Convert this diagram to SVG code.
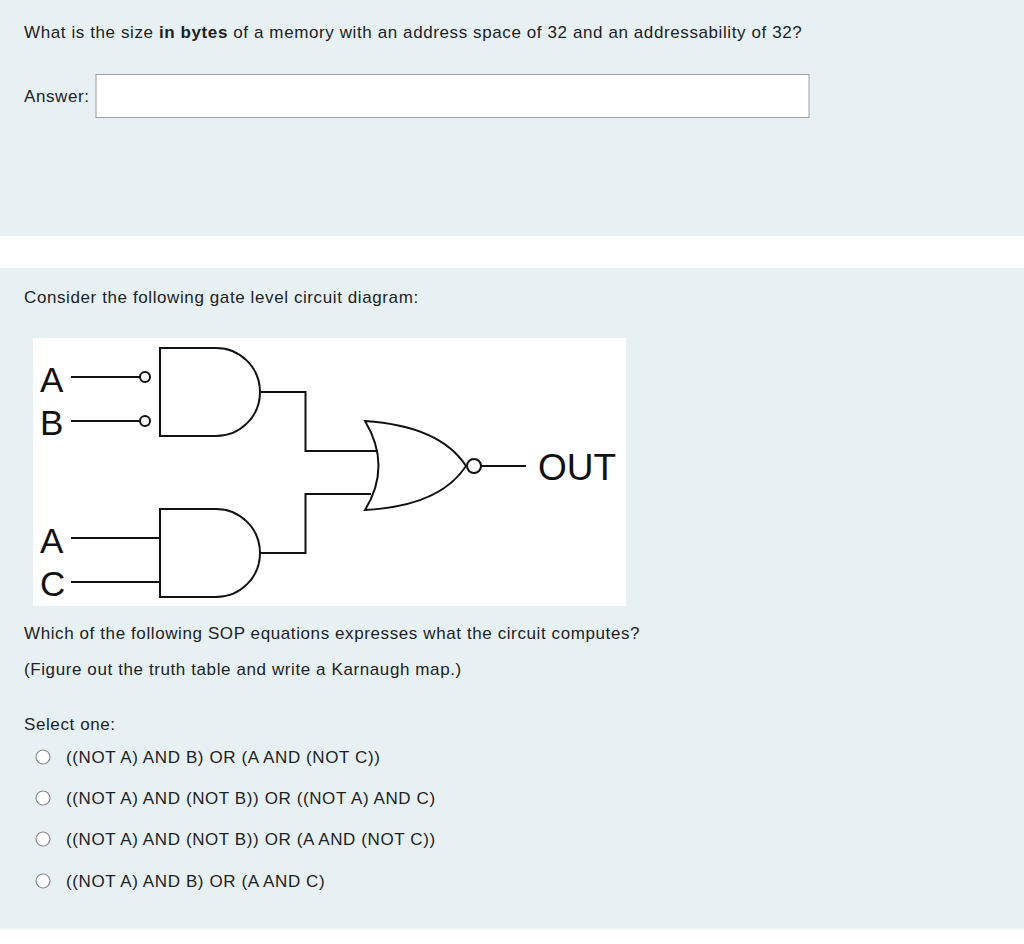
<svg xmlns="http://www.w3.org/2000/svg" width="1024" height="944" viewBox="0 0 1024 944">
<style>
.t{font-family:"Liberation Sans",Arial,sans-serif;font-size:17px;letter-spacing:0.6px;fill:#1d2125}
.c{font-family:"Liberation Sans",Arial,sans-serif;fill:#111}
.w{fill:none;stroke:#111;stroke-width:2}
.r{fill:#fff;stroke:#8a8a8a;stroke-width:1.2}
</style>
<rect width="1024" height="944" fill="#fff"/>
<rect x="0" y="0" width="1024" height="236" fill="#e7f1f4"/>
<rect x="0" y="268" width="1024" height="661" fill="#e7f1f4"/>
<text class="t" x="24" y="38">What is the size <tspan font-weight="bold">in bytes</tspan> of a memory with an address space of 32 and an addressability of 32?</text>
<text class="t" x="24" y="102">Answer:</text>
<rect x="96" y="74.5" width="713" height="43" fill="#fff" stroke="#9aa0a6"/>
<text class="t" x="24" y="303">Consider the following gate level circuit diagram:</text>
<g id="figure">
<rect x="33" y="338" width="593" height="268" fill="#fff"/>
<g id="labels">
<text class="c" x="40" y="392" font-size="35">A</text>
<text class="c" x="40" y="435" font-size="35">B</text>
<text class="c" x="40" y="553" font-size="35">A</text>
<text class="c" x="40" y="596" font-size="35">C</text>
<text class="c" x="538" y="480" font-size="37">OUT</text>
</g>
<g id="and1"><path class="w" d="M160 348 H216 A44 44 0 0 1 216 436 H160 Z"/><circle class="w" cx="145" cy="377" r="5" fill="#fff"/><circle class="w" cx="145" cy="421" r="5" fill="#fff"/></g>
<g id="and2"><path class="w" d="M160 509 H216 A44 44 0 0 1 216 597 H160 Z"/></g>
<g id="nor"><path class="w" d="M365 421 Q392 466 365 510 Q440 506 466 466 Q440 426 365 421 Z"/><circle class="w" cx="474" cy="466" r="7" fill="#fff"/></g>
<g id="connectors">
<path class="w" d="M71 377 H140 M71 421 H140 M71 538 H160 M71 582 H160 M260 392 H305.5 V451 H378 M260 553 H305.5 V494 H371 M481 466 H526"/>
</g>
</g>
<text class="t" x="24" y="639">Which of the following SOP equations expresses what the circuit computes?</text>
<text class="t" x="24" y="675">(Figure out the truth table and write a Karnaugh map.)</text>
<text class="t" x="24" y="730">Select one:</text>
<g id="options">
<circle class="r" cx="43" cy="757" r="7"/><text class="t" x="66" y="763">((NOT A) AND B) OR (A AND (NOT C))</text>
<circle class="r" cx="43" cy="798" r="7"/><text class="t" x="66" y="804">((NOT A) AND (NOT B)) OR ((NOT A) AND C)</text>
<circle class="r" cx="43" cy="839" r="7"/><text class="t" x="66" y="845">((NOT A) AND (NOT B)) OR (A AND (NOT C))</text>
<circle class="r" cx="43" cy="881" r="7"/><text class="t" x="66" y="887">((NOT A) AND B) OR (A AND C)</text>
</g>
</svg>
